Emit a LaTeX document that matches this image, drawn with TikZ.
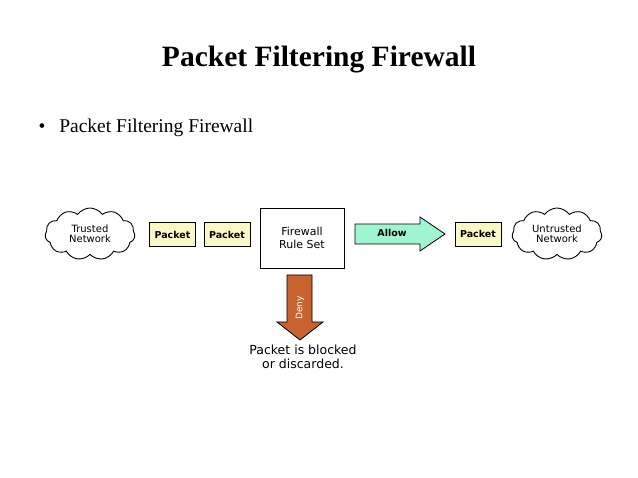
\documentclass[tikz,border=0pt]{standalone}
\usepackage{fontspec}
\setmainfont{Liberation Serif}
\newfontfamily\dv{DejaVu Sans}
\usetikzlibrary{shapes.symbols}
\definecolor{denyc}{HTML}{C8622F}
\definecolor{allowc}{HTML}{9FF5D0}
\definecolor{pkc}{HTML}{FAF8C4}
\begin{document}
\begin{tikzpicture}[x=1pt,y=-1pt,
 cl/.style={cloud,cloud puffs=11,cloud puff arc=110,aspect=1.7,draw=black,line width=0.9pt,fill=white,minimum width=90pt,minimum height=52pt,inner sep=0pt,font=\dv\fontsize{10}{10.5}\selectfont,align=center},
 pk/.style={draw=black,line width=0.9pt,fill=pkc,minimum width=46pt,minimum height=24pt,inner sep=0pt,font=\dv\bfseries\fontsize{9.5}{10}\selectfont},
 ar/.style={draw=black,line width=0.8pt}]
\useasboundingbox (0,0) rectangle (638,478);
\node[font=\bfseries\fontsize{29.5}{31}\selectfont] (title) at (319,60) {Packet Filtering Firewall};
\node[anchor=west,font=\fontsize{19.5}{22}\selectfont] (bul) at (35,128) {•\hspace{14pt}Packet Filtering Firewall};
\node[cl] (tn) at (90,234) {Trusted\\Network};
\node[pk] (p1) at (172.5,234.5) {Packet};
\node[pk] (p2) at (227,234.5) {Packet};
\node[draw=black,line width=0.9pt,minimum width=84pt,minimum height=60pt,align=center,font=\dv\fontsize{11}{13}\selectfont] (fw) at (302,238) {Firewall\\Rule Set};
\draw[ar,fill=allowc] (355,224) -- (420,224) -- (420,217) -- (445,234) -- (420,251) -- (420,244) -- (355,244) -- cycle;
\node[font=\dv\bfseries\fontsize{9.5}{10}\selectfont] (alt) at (392,233) {Allow};
\node[pk] (p3) at (478,234) {Packet};
\node[cl] (un) at (557,234) {Untrusted\\Network};
\draw[ar,fill=denyc] (287,275) -- (312,275) -- (312,322) -- (323,322) -- (300,340) -- (277,322) -- (287,322) -- cycle;
\node[rotate=90,text=white,font=\dv\fontsize{9}{10}\selectfont] (dt) at (300,308) {Deny};
\node[align=center,font=\dv\fontsize{12.5}{14}\selectfont] (bl) at (303,357) {Packet is blocked\\or discarded.};
\end{tikzpicture}
\end{document}
